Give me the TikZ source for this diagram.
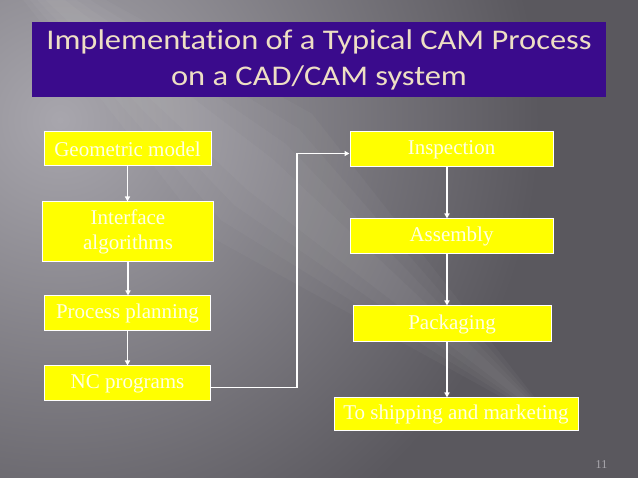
\documentclass[tikz,border=0pt]{standalone}
\usepackage{fontspec}
\setmainfont{Liberation Serif}
\newfontfamily\titlefont[FakeStretch=1.14, Ligatures={NoCommon}]{Carlito}
\usetikzlibrary{arrows.meta}
\definecolor{titlebg}{HTML}{3A0B8C}
\definecolor{titletext}{HTML}{EEDFC4}
\definecolor{boxfill}{HTML}{FFFF00}
\definecolor{boxtext}{HTML}{FFFFE6}
\definecolor{bgdark}{HTML}{5A585E}
\definecolor{bglight}{HTML}{A8A6AD}
\definecolor{pagenum}{HTML}{ABA9AF}
\begin{document}
\begin{tikzpicture}[x=1pt,y=1pt,
  flowbox/.style={draw=white, line width=1pt, fill=boxfill, text=boxtext,
    font=\fontsize{21}{25}\selectfont, inner sep=0pt, align=center},
  conn/.style={draw=white, line width=1.4pt, -{Triangle[length=5pt,width=5pt]}},
  titleline/.style={text=titletext, font=\titlefont\fontsize{28.5}{33}\selectfont,
    anchor=base, inner sep=0pt},
  streak/.style={fill=white, fill opacity=0.03}]
\useasboundingbox (0,0) rectangle (638,-478);
% background
\fill[bgdark] (0,0) rectangle (638,-478);
\begin{scope}
  \clip (0,0) rectangle (638,-478);
  \shade[inner color=bglight, outer color=bgdark] (60,-120) circle (480);
  \fill[streak] (-40,80.5) -- (311.8,-113.6) -- (560,-429.5) -- (208.2,-235.4) -- cycle;
  \fill[streak] (-40,80.5) -- (298.9,-128.8) -- (560,-429.5) -- (221.1,-220.2) -- cycle;
  \fill[streak] (-40,80.5) -- (285.9,-144.0) -- (560,-429.5) -- (234.1,-205.0) -- cycle;
  \fill[streak] (-40,80.5) -- (273.0,-159.3) -- (560,-429.5) -- (247.0,-189.7) -- cycle;
\end{scope}
% title
\node[fill=titlebg, minimum width=574pt, minimum height=75pt, inner sep=0pt] (titlebox) at (319,-59.5) {};
\node[titleline] (t1) at (319,-50) {Implementation of a Typical CAM Process};
\node[titleline] (t2) at (319,-86) {on a CAD/CAM system};
% left column
\node[flowbox, minimum width=167pt, minimum height=34pt] (geo) at (127.5,-149) {Geometric model};
\node[flowbox, minimum width=171pt, minimum height=60pt] (intf) at (128,-232) {Interface\\algorithms};
\node[flowbox, minimum width=166pt, minimum height=35pt] (proc) at (127.5,-313.5) {Process planning};
\node[flowbox, minimum width=166pt, minimum height=35pt] (nc) at (127.5,-383.5) {NC programs};
% right column
\node[flowbox, minimum width=203pt, minimum height=35pt] (insp) at (451.5,-149.5) {Inspection};
\node[flowbox, minimum width=203pt, minimum height=35pt] (asm) at (451.5,-236.5) {Assembly};
\node[flowbox, minimum width=198pt, minimum height=36pt] (pack) at (452,-324) {Packaging};
\node[flowbox, minimum width=244pt, minimum height=33pt] (ship) at (456,-414.5) {To shipping and marketing};
% page number
\node[text=pagenum, font=\fontsize{12}{14}\selectfont, inner sep=0pt] (pg) at (601.5,-465) {11};
% connectors
\coordinate (rcol) at (447,0);
\coordinate (bend) at (297,-153.5);
\draw[conn] (geo.south) -- (geo.south |- intf.north);
\draw[conn] (intf.south) -- (intf.south |- proc.north);
\draw[conn] (proc.south) -- (nc.north);
\draw[conn] ([yshift=-4pt]nc.east) -| (bend) -- (bend -| insp.west);
\draw[conn] (insp.south -| rcol) -- (asm.north -| rcol);
\draw[conn] (asm.south -| rcol) -- (pack.north -| rcol);
\draw[conn] (pack.south -| rcol) -- (ship.north -| rcol);
\end{tikzpicture}
\end{document}
